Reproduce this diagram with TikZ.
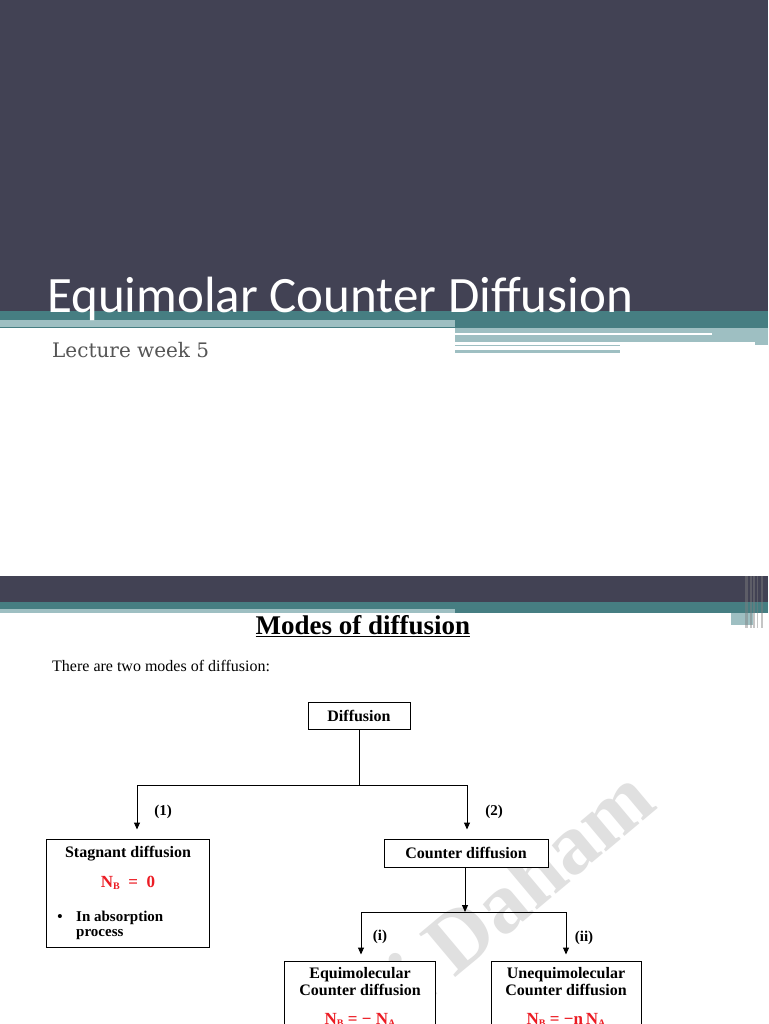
\documentclass[tikz,border=0pt]{standalone}
\usepackage{fontspec}
\setmainfont{Liberation Serif}
\newfontfamily\titlefont{Carlito}
\newfontfamily\subfont{DejaVu Serif}
\usetikzlibrary{arrows.meta}
\definecolor{slatedark}{RGB}{66,66,84}
\definecolor{tealband}{RGB}{70,126,130}
\definecolor{tealight}{RGB}{158,191,194}
\definecolor{formred}{RGB}{236,28,36}
\definecolor{wmgray}{RGB}{224,224,224}
\definecolor{subgray}{RGB}{85,85,85}
\newcommand{\subsc}[1]{\raisebox{-0.35ex}{\fontsize{10}{10}\selectfont #1}}
\begin{document}
\begin{tikzpicture}[x=1pt,y=-1pt,
  boxnode/.style={draw,line width=1pt,inner sep=0pt,fill=white},
  boxtext/.style={font=\fontsize{16}{18}\selectfont\bfseries,inner sep=0pt,anchor=base},
  lbl/.style={font=\fontsize{15}{17}\selectfont\bfseries,inner sep=0pt},
  formula/.style={font=\fontsize{17}{19}\selectfont\bfseries,text=formred,inner sep=0pt,anchor=base},
  conn/.style={line width=1pt},
  arr/.style={line width=1pt,-{Triangle[length=7pt,width=6pt]}}]
\useasboundingbox (0,0) rectangle (768,1024);
\clip (0,0) rectangle (768,1024);
\fill[white] (0,0) rectangle (768,1024);
% ---------- slide 1 ----------
\fill[slatedark] (0,0) rectangle (768,312);
\fill[tealband] (0,311) rectangle (768,328);
\fill[tealight] (0,320) rectangle (455,327);
\fill[tealight] (455,328) rectangle (768,342);
\fill[tealight] (755,342) rectangle (768,345);
\fill[white] (455,333) rectangle (712,335);
\fill[tealight] (455,344.5) rectangle (620,346);
\fill[tealight] (455,349.5) rectangle (620,353);
\node[anchor=base west,inner sep=0pt,text=white,font=\titlefont\fontsize{51}{55}\selectfont] (title) at (47,312) {Equimolar Counter Diffusion};
\node[anchor=base west,inner sep=0pt,text=subgray,font=\subfont\fontsize{20}{24}\selectfont] (sub) at (52,357) {Lecture week 5};
% ---------- slide 2 ----------
\fill[slatedark] (0,576) rectangle (768,602);
\fill[tealband] (0,602) rectangle (768,609);
\fill[tealband] (455,609) rectangle (768,613);
\fill[tealight] (0,609) rectangle (455,613);
\fill[tealight] (731,613) rectangle (753,625);
\foreach \xa/\xb in {745/748,750/752,753/755,757/758,761/763}
  \fill[gray,opacity=0.45] (\xa,576) rectangle (\xb,628);
% watermark (behind the boxes)
\node[rotate=40,text=wmgray,inner sep=0pt,font=\fontsize{86}{86}\selectfont\bfseries] (wm) at (521,885) {i Daham};
% heading
\node[anchor=base,inner sep=0pt,font=\fontsize{27}{30}\selectfont\bfseries] (modes) at (363,634) {\underline{Modes of diffusion}};
\node[anchor=base west,inner sep=0pt,font=\fontsize{16}{18}\selectfont] (intro) at (52,671) {There are two modes of diffusion:};
% boxes and connectors
\node[boxnode,minimum width=102pt,minimum height=27pt] (diff) at (359,716) {};
\node[boxnode,minimum width=163pt,minimum height=108pt] (stag) at (127.5,893) {};
\node[boxnode,minimum width=164pt,minimum height=28pt] (counter) at (466,853) {};
\node[boxnode,minimum width=151pt,minimum height=110pt] (equi) at (359.5,1016) {};
\node[boxnode,minimum width=150pt,minimum height=110pt] (unequi) at (566,1016) {};
\coordinate (j1) at (359,785);
\coordinate (j1l) at (137,785);
\coordinate (j1r) at (467,785);
\draw[conn] (diff.south) -- (j1);
\draw[arr,shorten >=9pt] (j1) -- (j1l) -- (j1l |- stag.north);
\draw[arr,shorten >=9pt] (j1) -- (j1r) -- (j1r |- counter.north);
\coordinate (j2) at (465,912);
\coordinate (j2l) at (361,912);
\coordinate (j2r) at (566,912);
\draw[arr] (counter.south -| j2) -- (j2);
\draw[arr,shorten >=6pt] (j2) -- (j2l) -- (j2l |- equi.north);
\draw[arr,shorten >=6pt] (j2) -- (j2r) -- (j2r |- unequi.north);
% box texts
\node[boxtext] (difft) at (359,721) {Diffusion};
\node[boxtext] (stagt) at (128,857) {Stagnant diffusion};
\node[formula] (stagf) at (128,887) {N\subsc{B}\ \ =\ \ 0};
\node[inner sep=0pt,font=\fontsize{15}{17}\selectfont\bfseries,anchor=base] (bul) at (60,921) {\textbullet};
\node[anchor=base west,inner sep=0pt,font=\fontsize{15}{17}\selectfont\bfseries] (bul1) at (76,921) {In absorption};
\node[anchor=base west,inner sep=0pt,font=\fontsize{15}{17}\selectfont\bfseries] (bul2) at (76,936) {process};
\node[boxtext] (countert) at (466,858) {Counter diffusion};
\node[boxtext] (equit1) at (360,978) {Equimolecular};
\node[boxtext] (equit2) at (360,995) {Counter diffusion};
\node[formula] (equif) at (360,1024) {N\subsc{B}\ =\ −\ N\subsc{A}};
\node[boxtext] (unequit1) at (566,978) {Unequimolecular};
\node[boxtext] (unequit2) at (566,995) {Counter diffusion};
\node[formula] (unequif) at (566,1024) {N\subsc{B}\ =\ −n\,N\subsc{A}};
% labels
\node[lbl] (l1) at (163,812) {(1)};
\node[lbl] (l2) at (494,812) {(2)};
\node[lbl] (li) at (380,937) {(i)};
\node[lbl] (lii) at (584,938) {(ii)};
\end{tikzpicture}
\end{document}
